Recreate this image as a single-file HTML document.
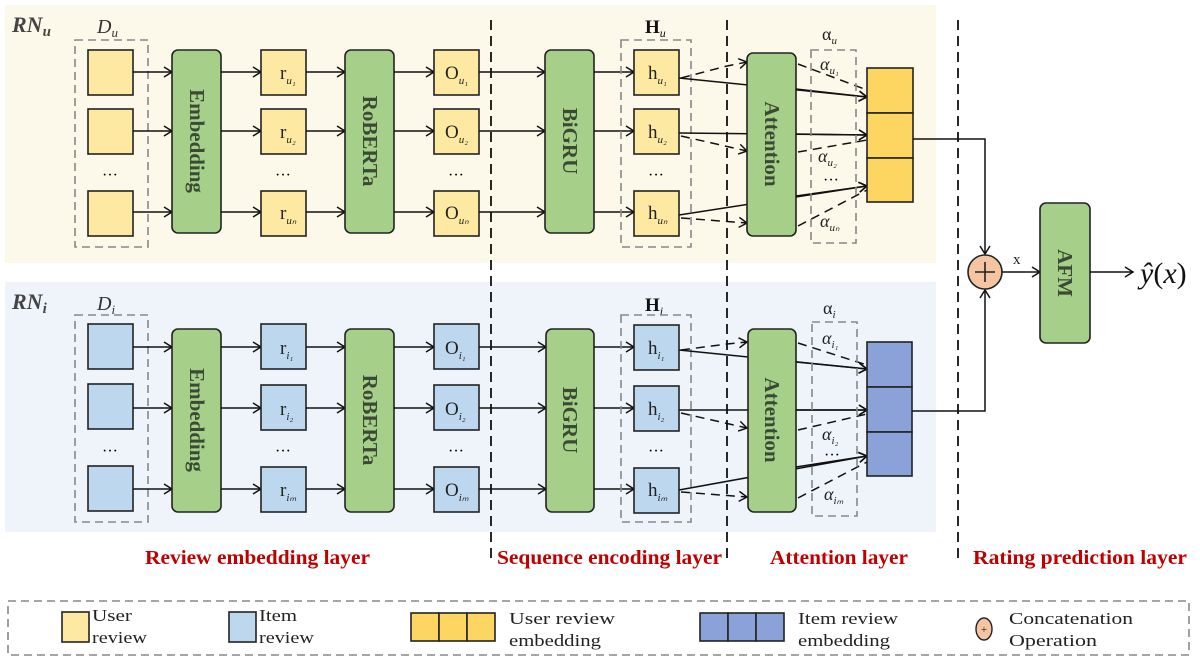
<!DOCTYPE html>
<html><head><meta charset="utf-8"><style>
html,body{margin:0;padding:0;background:#fff;}
svg{display:block;font-family:"Liberation Serif",serif;}
.g{fill:#a6d08a;stroke:#222;stroke-width:1.6;}
.y{fill:#fde9a2;stroke:#222;stroke-width:1.6;}
.b{fill:#bcd7ee;stroke:#222;stroke-width:1.6;}
.l{stroke:#111;stroke-width:1.5;fill:none;}
.d{stroke:#111;stroke-width:1.5;fill:none;stroke-dasharray:9,6;}
.gd{stroke:#888;stroke-width:1.6;fill:none;stroke-dasharray:8,5;}
.vd{stroke:#111;stroke-width:1.8;stroke-dasharray:10,6;}
.vt{font-size:21px;font-weight:bold;fill:#3a4a33;}
.bt{font-size:19px;fill:#222;}
.sb{font-size:11px;font-style:italic;fill:#222;}
.red{font-size:20px;font-weight:bold;fill:#c00000;}
.lg{font-size:17px;fill:#222;}
</style></head><body>
<svg width="1200" height="660" viewBox="0 0 1200 660" xmlns="http://www.w3.org/2000/svg">
<defs>
<marker id="a" markerWidth="12" markerHeight="12" refX="10" refY="6" orient="auto" markerUnits="userSpaceOnUse">
<path d="M2,1 L10,6 L2,11" fill="none" stroke="#111" stroke-width="1.5"/></marker>
</defs>
<rect x="5" y="5" width="931" height="258" fill="#fdf9ea"/>
<rect x="5" y="282" width="931" height="250" fill="#eef4fa"/>

<!-- Top panel -->
<text x="12" y="32" font-size="22" font-weight="bold" font-style="italic" fill="#444">RN<tspan font-size="15" dy="4">u</tspan></text>
<text x="97" y="33" font-size="20" font-style="italic" fill="#333">D<tspan font-size="13" dy="4">u</tspan></text>
<rect x="75" y="40" width="73" height="207" class="gd"/>
<rect x="88" y="50" width="45" height="45" class="y"/>
<rect x="88" y="109" width="45" height="45" class="y"/>
<rect x="88" y="191" width="45" height="45" class="y"/>
<text x="110" y="180" text-anchor="middle" font-size="16">···</text>
<line x1="133" y1="72" x2="172" y2="72" class="l" marker-end="url(#a)"/>
<line x1="133" y1="131" x2="172" y2="131" class="l" marker-end="url(#a)"/>
<line x1="133" y1="212" x2="172" y2="212" class="l" marker-end="url(#a)"/>
<rect x="172" y="50" width="49" height="183" rx="6" class="g"/>
<text transform="translate(190,141) rotate(90)" text-anchor="middle" class="vt">Embedding</text>
<line x1="221" y1="72" x2="261" y2="72" class="l" marker-end="url(#a)"/>
<line x1="221" y1="131" x2="261" y2="131" class="l" marker-end="url(#a)"/>
<line x1="221" y1="212" x2="261" y2="212" class="l" marker-end="url(#a)"/>
<rect x="261" y="50" width="45" height="45" class="y"/>
<rect x="261" y="109" width="45" height="45" class="y"/>
<rect x="261" y="191" width="45" height="45" class="y"/>
<text x="280" y="79" class="bt">r<tspan class="sb" dy="5">u₁</tspan></text>
<text x="280" y="138" class="bt">r<tspan class="sb" dy="5">u₂</tspan></text>
<text x="280" y="219" class="bt">r<tspan class="sb" dy="5">uₙ</tspan></text>
<text x="283" y="180" text-anchor="middle" font-size="16">···</text>
<line x1="306" y1="72" x2="345" y2="72" class="l" marker-end="url(#a)"/>
<line x1="306" y1="131" x2="345" y2="131" class="l" marker-end="url(#a)"/>
<line x1="306" y1="212" x2="345" y2="212" class="l" marker-end="url(#a)"/>
<rect x="345" y="50" width="49" height="183" rx="6" class="g"/>
<text transform="translate(363,141) rotate(90)" text-anchor="middle" class="vt">RoBERTa</text>
<line x1="394" y1="72" x2="434" y2="72" class="l" marker-end="url(#a)"/>
<line x1="394" y1="131" x2="434" y2="131" class="l" marker-end="url(#a)"/>
<line x1="394" y1="212" x2="434" y2="212" class="l" marker-end="url(#a)"/>
<rect x="434" y="50" width="45" height="45" class="y"/>
<rect x="434" y="109" width="45" height="45" class="y"/>
<rect x="434" y="191" width="45" height="45" class="y"/>
<text x="445" y="79" class="bt">O<tspan class="sb" dy="5">u₁</tspan></text>
<text x="445" y="138" class="bt">O<tspan class="sb" dy="5">u₂</tspan></text>
<text x="445" y="219" class="bt">O<tspan class="sb" dy="5">uₙ</tspan></text>
<text x="456" y="180" text-anchor="middle" font-size="16">···</text>
<line x1="479" y1="72" x2="545" y2="72" class="l" marker-end="url(#a)"/>
<line x1="479" y1="131" x2="545" y2="131" class="l" marker-end="url(#a)"/>
<line x1="479" y1="212" x2="545" y2="212" class="l" marker-end="url(#a)"/>
<rect x="545" y="50" width="49" height="183" rx="6" class="g"/>
<text transform="translate(563,141) rotate(90)" text-anchor="middle" class="vt">BiGRU</text>
<line x1="594" y1="72" x2="634" y2="72" class="l" marker-end="url(#a)"/>
<line x1="594" y1="131" x2="634" y2="131" class="l" marker-end="url(#a)"/>
<line x1="594" y1="212" x2="634" y2="212" class="l" marker-end="url(#a)"/>
<text x="645" y="33" font-size="19" font-weight="bold" fill="#111">H<tspan font-size="12" font-style="italic" font-weight="normal" dy="4">u</tspan></text>
<rect x="621" y="40" width="70" height="207" class="gd"/>
<rect x="634" y="50" width="45" height="45" class="y"/>
<rect x="634" y="109" width="45" height="45" class="y"/>
<rect x="634" y="191" width="45" height="45" class="y"/>
<text x="648" y="79" class="bt">h<tspan class="sb" dy="5">u₁</tspan></text>
<text x="648" y="138" class="bt">h<tspan class="sb" dy="5">u₂</tspan></text>
<text x="648" y="219" class="bt">h<tspan class="sb" dy="5">uₙ</tspan></text>
<text x="656" y="180" text-anchor="middle" font-size="16">···</text>
<line x1="679" y1="78" x2="867" y2="97" class="l" marker-end="url(#a)"/>
<line x1="679" y1="133" x2="867" y2="135" class="l" marker-end="url(#a)"/>
<line x1="679" y1="215" x2="867" y2="186" class="l" marker-end="url(#a)"/>
<polyline points="681,78 727,66 747,62" class="d" marker-end="url(#a)"/>
<line x1="681" y1="136" x2="747" y2="151" class="d" marker-end="url(#a)"/>
<line x1="681" y1="218" x2="747" y2="223" class="d" marker-end="url(#a)"/>
<rect x="747" y="53" width="49" height="183" rx="6" class="g"/>
<text transform="translate(765,144) rotate(90)" text-anchor="middle" class="vt">Attention</text>
<line x1="796" y1="89" x2="867" y2="97" class="l" marker-end="url(#a)"/>
<line x1="796" y1="134" x2="867" y2="135" class="l" marker-end="url(#a)"/>
<line x1="796" y1="196" x2="867" y2="186" class="l" marker-end="url(#a)"/>
<line x1="798" y1="64" x2="867" y2="90" class="d"/>
<line x1="798" y1="152" x2="867" y2="140" class="d"/>
<line x1="798" y1="226" x2="867" y2="190" class="d"/>
<rect x="811" y="50" width="45" height="193" class="gd"/>
<text x="822" y="40" font-size="18" fill="#222">α<tspan font-size="11" font-style="italic" dy="4">u</tspan></text>
<text x="820" y="70" font-size="18" font-style="italic" fill="#222">α<tspan font-size="11" dy="4">u₁</tspan></text>
<text x="818" y="162" font-size="18" font-style="italic" fill="#222">α<tspan font-size="11" dy="4">u₂</tspan></text>
<text x="831" y="185" text-anchor="middle" font-size="16">···</text>
<text x="820" y="227" font-size="18" font-style="italic" fill="#222">α<tspan font-size="11" dy="4">uₙ</tspan></text>
<rect x="867" y="68" width="46" height="45" fill="#fdd662" stroke="#222" stroke-width="1.6"/>
<rect x="867" y="113" width="46" height="45" fill="#fdd662" stroke="#222" stroke-width="1.6"/>
<rect x="867" y="158" width="46" height="44" fill="#fdd662" stroke="#222" stroke-width="1.6"/>

<!-- Bottom panel -->
<text x="12" y="309" font-size="22" font-weight="bold" font-style="italic" fill="#444">RN<tspan font-size="15" dy="4">i</tspan></text>
<text x="97" y="310" font-size="20" font-style="italic" fill="#333">D<tspan font-size="13" dy="4">i</tspan></text>
<rect x="75" y="315" width="73" height="207" class="gd"/>
<rect x="88" y="324" width="45" height="45" class="b"/>
<rect x="88" y="384" width="45" height="45" class="b"/>
<rect x="88" y="466" width="45" height="45" class="b"/>
<text x="110" y="456" text-anchor="middle" font-size="16">···</text>
<line x1="133" y1="347" x2="172" y2="347" class="l" marker-end="url(#a)"/>
<line x1="133" y1="408" x2="172" y2="408" class="l" marker-end="url(#a)"/>
<line x1="133" y1="489" x2="172" y2="489" class="l" marker-end="url(#a)"/>
<rect x="172" y="329" width="49" height="183" rx="6" class="g"/>
<text transform="translate(190,420) rotate(90)" text-anchor="middle" class="vt">Embedding</text>
<line x1="221" y1="347" x2="261" y2="347" class="l" marker-end="url(#a)"/>
<line x1="221" y1="408" x2="261" y2="408" class="l" marker-end="url(#a)"/>
<line x1="221" y1="489" x2="261" y2="489" class="l" marker-end="url(#a)"/>
<rect x="261" y="324" width="45" height="45" class="b"/>
<rect x="261" y="385" width="45" height="45" class="b"/>
<rect x="261" y="467" width="45" height="45" class="b"/>
<text x="280" y="354" class="bt">r<tspan class="sb" dy="5">i₁</tspan></text>
<text x="280" y="415" class="bt">r<tspan class="sb" dy="5">i₂</tspan></text>
<text x="280" y="496" class="bt">r<tspan class="sb" dy="5">iₘ</tspan></text>
<text x="283" y="456" text-anchor="middle" font-size="16">···</text>
<line x1="306" y1="347" x2="345" y2="347" class="l" marker-end="url(#a)"/>
<line x1="306" y1="408" x2="345" y2="408" class="l" marker-end="url(#a)"/>
<line x1="306" y1="489" x2="345" y2="489" class="l" marker-end="url(#a)"/>
<rect x="345" y="329" width="49" height="183" rx="6" class="g"/>
<text transform="translate(363,420) rotate(90)" text-anchor="middle" class="vt">RoBERTa</text>
<line x1="394" y1="347" x2="434" y2="347" class="l" marker-end="url(#a)"/>
<line x1="394" y1="408" x2="434" y2="408" class="l" marker-end="url(#a)"/>
<line x1="394" y1="489" x2="434" y2="489" class="l" marker-end="url(#a)"/>
<rect x="434" y="324" width="45" height="45" class="b"/>
<rect x="434" y="385" width="45" height="45" class="b"/>
<rect x="434" y="467" width="45" height="45" class="b"/>
<text x="445" y="354" class="bt">O<tspan class="sb" dy="5">i₁</tspan></text>
<text x="445" y="415" class="bt">O<tspan class="sb" dy="5">i₂</tspan></text>
<text x="445" y="496" class="bt">O<tspan class="sb" dy="5">iₘ</tspan></text>
<text x="456" y="456" text-anchor="middle" font-size="16">···</text>
<line x1="479" y1="347" x2="546" y2="347" class="l" marker-end="url(#a)"/>
<line x1="479" y1="408" x2="546" y2="408" class="l" marker-end="url(#a)"/>
<line x1="479" y1="489" x2="546" y2="489" class="l" marker-end="url(#a)"/>
<rect x="546" y="329" width="48" height="183" rx="6" class="g"/>
<text transform="translate(563,420) rotate(90)" text-anchor="middle" class="vt">BiGRU</text>
<line x1="594" y1="347" x2="634" y2="347" class="l" marker-end="url(#a)"/>
<line x1="594" y1="408" x2="634" y2="408" class="l" marker-end="url(#a)"/>
<line x1="594" y1="489" x2="634" y2="489" class="l" marker-end="url(#a)"/>
<text x="645" y="311" font-size="19" font-weight="bold" fill="#111">H<tspan font-size="12" font-style="italic" font-weight="normal" dy="4">i</tspan></text>
<rect x="621" y="315" width="70" height="207" class="gd"/>
<rect x="634" y="325" width="45" height="45" class="b"/>
<rect x="634" y="386" width="45" height="45" class="b"/>
<rect x="634" y="468" width="45" height="45" class="b"/>
<text x="648" y="354" class="bt">h<tspan class="sb" dy="5">i₁</tspan></text>
<text x="648" y="415" class="bt">h<tspan class="sb" dy="5">i₂</tspan></text>
<text x="648" y="496" class="bt">h<tspan class="sb" dy="5">iₘ</tspan></text>
<text x="656" y="456" text-anchor="middle" font-size="16">···</text>
<line x1="679" y1="350" x2="867" y2="369" class="l" marker-end="url(#a)"/>
<line x1="679" y1="410" x2="867" y2="410" class="l" marker-end="url(#a)"/>
<line x1="679" y1="490" x2="867" y2="456" class="l" marker-end="url(#a)"/>
<polyline points="681,350 727,344 747,342" class="d" marker-end="url(#a)"/>
<line x1="681" y1="413" x2="747" y2="428" class="d" marker-end="url(#a)"/>
<line x1="681" y1="492" x2="747" y2="497" class="d" marker-end="url(#a)"/>
<rect x="748" y="329" width="48" height="183" rx="6" class="g"/>
<text transform="translate(765,420) rotate(90)" text-anchor="middle" class="vt">Attention</text>
<line x1="796" y1="362" x2="867" y2="369" class="l" marker-end="url(#a)"/>
<line x1="796" y1="410" x2="867" y2="410" class="l" marker-end="url(#a)"/>
<line x1="796" y1="467" x2="867" y2="456" class="l" marker-end="url(#a)"/>
<line x1="798" y1="343" x2="867" y2="365" class="d"/>
<line x1="798" y1="430" x2="867" y2="414" class="d"/>
<line x1="798" y1="498" x2="867" y2="462" class="d"/>
<rect x="812" y="322" width="45" height="194" class="gd"/>
<text x="823" y="314" font-size="18" fill="#222">α<tspan font-size="11" font-style="italic" dy="4">i</tspan></text>
<text x="822" y="344" font-size="18" font-style="italic" fill="#222">α<tspan font-size="11" dy="4">i₁</tspan></text>
<text x="822" y="440" font-size="18" font-style="italic" fill="#222">α<tspan font-size="11" dy="4">i₂</tspan></text>
<text x="832" y="460" text-anchor="middle" font-size="16">···</text>
<text x="824" y="500" font-size="18" font-style="italic" fill="#222">α<tspan font-size="11" dy="4">iₘ</tspan></text>
<rect x="867" y="342" width="45" height="45" fill="#8aa2d8" stroke="#222" stroke-width="1.6"/>
<rect x="867" y="387" width="45" height="45" fill="#8aa2d8" stroke="#222" stroke-width="1.6"/>
<rect x="867" y="432" width="45" height="44" fill="#8aa2d8" stroke="#222" stroke-width="1.6"/>

<line x1="491" y1="20" x2="491" y2="562" class="vd"/>
<line x1="727" y1="20" x2="727" y2="562" class="vd"/>
<line x1="958" y1="20" x2="958" y2="562" class="vd"/>

<polyline points="913,139 985,139 985,254" class="l" marker-end="url(#a)"/>
<polyline points="912,411 985,411 985,290" class="l" marker-end="url(#a)"/>
<circle cx="985" cy="272" r="17" fill="#f5c4a3" stroke="#222" stroke-width="1.6"/>
<line x1="975" y1="272" x2="995" y2="272" stroke="#222" stroke-width="1.6"/>
<line x1="985" y1="262" x2="985" y2="282" stroke="#222" stroke-width="1.6"/>
<text x="1013" y="264" font-size="15" fill="#222">x</text>
<line x1="1002" y1="272" x2="1040" y2="272" class="l" marker-end="url(#a)"/>
<rect x="1040" y="203" width="50" height="140" rx="6" class="g"/>
<text transform="translate(1058,273) rotate(90)" text-anchor="middle" class="vt">AFM</text>
<line x1="1090" y1="272" x2="1133" y2="272" class="l" marker-end="url(#a)"/>
<text x="1140" y="283" font-size="30" font-style="italic" fill="#111">ŷ<tspan font-style="normal">(</tspan>x<tspan font-style="normal">)</tspan></text>

<text x="145" y="564" class="red" textLength="225" lengthAdjust="spacingAndGlyphs">Review embedding layer</text>
<text x="497" y="564" class="red" textLength="225" lengthAdjust="spacingAndGlyphs">Sequence encoding layer</text>
<text x="770" y="564" class="red" textLength="138" lengthAdjust="spacingAndGlyphs">Attention layer</text>
<text x="973" y="564" class="red" textLength="214" lengthAdjust="spacingAndGlyphs">Rating prediction layer</text>

<rect x="8" y="601" width="1181" height="54" class="gd"/>
<rect x="62" y="612" width="27" height="30" class="y"/>
<text x="92" y="621" class="lg" textLength="40" lengthAdjust="spacingAndGlyphs">User</text>
<text x="92" y="643" class="lg" textLength="55" lengthAdjust="spacingAndGlyphs">review</text>
<rect x="229" y="612" width="27" height="30" class="b"/>
<text x="259" y="621" class="lg" textLength="38" lengthAdjust="spacingAndGlyphs">Item</text>
<text x="259" y="643" class="lg" textLength="55" lengthAdjust="spacingAndGlyphs">review</text>
<rect x="411" y="613" width="28" height="28" fill="#fdd662" stroke="#222" stroke-width="1.6"/>
<rect x="439" y="613" width="28" height="28" fill="#fdd662" stroke="#222" stroke-width="1.6"/>
<rect x="467" y="613" width="28" height="28" fill="#fdd662" stroke="#222" stroke-width="1.6"/>
<text x="509" y="624" class="lg" textLength="106" lengthAdjust="spacingAndGlyphs">User  review</text>
<text x="509" y="646" class="lg" textLength="92" lengthAdjust="spacingAndGlyphs">embedding</text>
<rect x="700" y="613" width="28" height="28" fill="#8aa2d8" stroke="#222" stroke-width="1.6"/>
<rect x="728" y="613" width="28" height="28" fill="#8aa2d8" stroke="#222" stroke-width="1.6"/>
<rect x="756" y="613" width="28" height="28" fill="#8aa2d8" stroke="#222" stroke-width="1.6"/>
<text x="798" y="624" class="lg" textLength="100" lengthAdjust="spacingAndGlyphs">Item review</text>
<text x="798" y="646" class="lg" textLength="92" lengthAdjust="spacingAndGlyphs">embedding</text>
<ellipse cx="984" cy="629" rx="8" ry="11" fill="#f5c4a3" stroke="#222" stroke-width="1.4"/>
<text x="984" y="633" text-anchor="middle" font-size="11" fill="#222">+</text>
<text x="1009" y="624" class="lg" textLength="124" lengthAdjust="spacingAndGlyphs">Concatenation</text>
<text x="1009" y="646" class="lg" textLength="88" lengthAdjust="spacingAndGlyphs">Operation</text>
</svg>
</body></html>
